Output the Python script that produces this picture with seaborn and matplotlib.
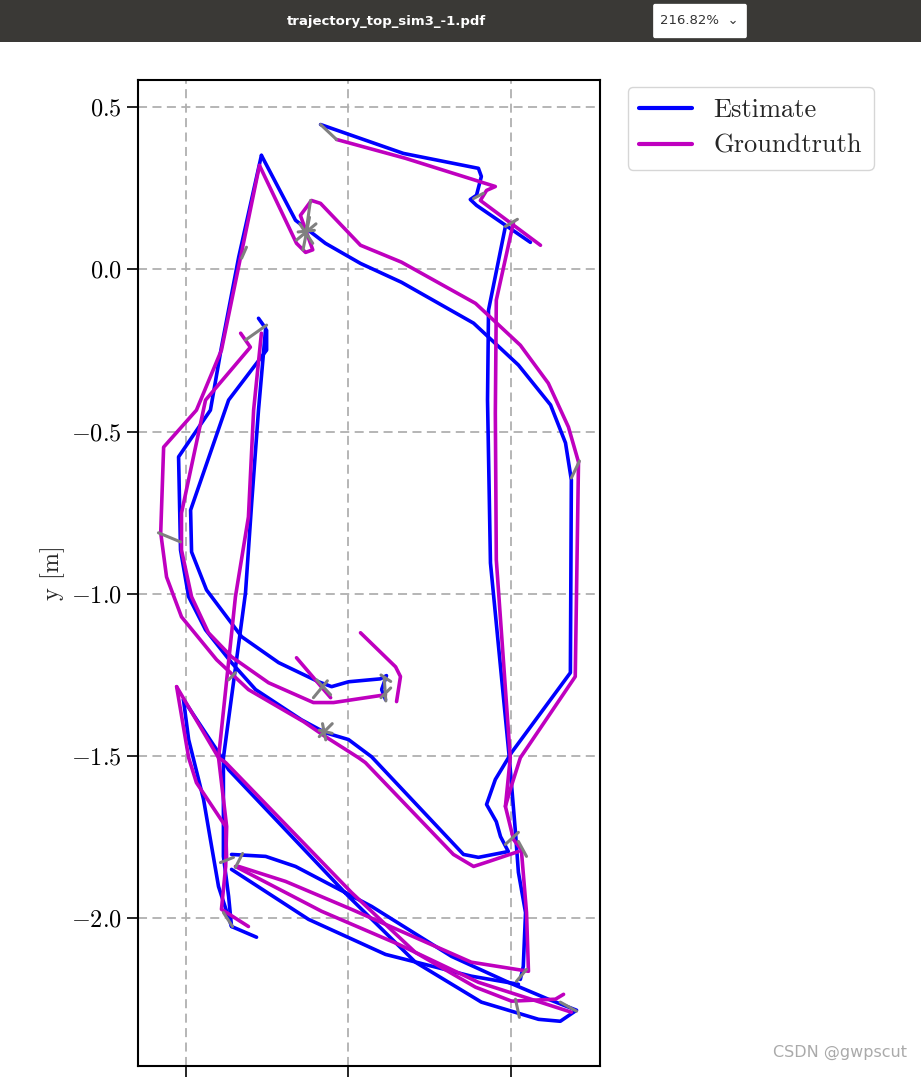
import matplotlib
matplotlib.use("Agg")
import matplotlib.pyplot as plt
import numpy as np
import pandas as pd
import seaborn as sns
from matplotlib.patches import Rectangle, FancyBboxPatch

# estimate trajectory pieces (x [m], y [m])
est_x = [
    [-0.086, 0.169, 0.40, 0.409, 0.394, 0.375, 0.394, 0.56],
    [0.483, 0.431, 0.428, 0.437, 0.495, 0.514, 0.523, 0.545, 0.538, 0.529],
    [-0.268, -0.163, -0.071, 0.037, 0.163, 0.385, 0.523, 0.622, 0.668, 0.686, 0.683, 0.502,
     0.452, 0.425, 0.455, 0.468, 0.492, 0.40, 0.354, 0.071, 0.0, -0.071],
    [-0.268, -0.338, -0.391, -0.425, -0.523, -0.517, -0.492, -0.44, -0.36, -0.286, -0.145, -0.071],
    [-0.252, -0.252, -0.369, -0.486, -0.483, -0.437, -0.329, -0.215, -0.092, -0.052, 0.0,
     0.098, 0.117, 0.102, 0.114],
    [-0.277, -0.255, -0.277, -0.298, -0.317, -0.385, -0.385, -0.369, -0.36, -0.283],
    [-0.508, -0.492, -0.446, -0.425, -0.40, -0.36],
    [-0.508, -0.40, -0.369, 0.0, 0.206, 0.409, 0.585, 0.652, 0.702, 0.615, 0.492, 0.317,
     0.071, -0.163, -0.255, -0.36],
    [-0.36, -0.123, 0.114, 0.378, 0.523],
]
est_y = [
    [0.446, 0.357, 0.311, 0.286, 0.228, 0.215, 0.197, 0.083],
    [0.132, -0.126, -0.403, -0.905, -1.505, -1.735, -1.858, -1.982, -2.148, -2.188],
    [0.351, 0.151, 0.08, 0.018, -0.04, -0.166, -0.295, -0.418, -0.535, -0.649, -1.243, -1.489,
     -1.572, -1.649, -1.702, -1.748, -1.794, -1.812, -1.803, -1.502, -1.449, -1.428],
    [0.351, 0.037, -0.24, -0.434, -0.578, -0.865, -1.009, -1.111, -1.212, -1.295, -1.388, -1.428],
    [-0.188, -0.249, -0.403, -0.742, -0.871, -0.988, -1.132, -1.212, -1.271, -1.286, -1.271,
     -1.262, -1.252, -1.295, -1.326],
    [-0.151, -0.182, -0.434, -0.72, -0.997, -1.505, -1.809, -1.932, -2.025, -2.058],
    [-1.326, -1.449, -1.634, -1.757, -1.902, -2.025],
    [-1.326, -1.489, -1.542, -1.932, -2.135, -2.258, -2.311, -2.317, -2.283, -2.249, -2.197,
     -2.117, -1.963, -1.84, -1.809, -1.803],
    [-1.849, -2.003, -2.111, -2.178, -2.203],
]

# groundtruth trajectory pieces
gt_x = [
    [-0.037, 0.175, 0.452, 0.425, 0.406, 0.591],
    [0.508, 0.455, 0.452, 0.455, 0.498, 0.483, 0.508, 0.532, 0.548, 0.554, 0.378, 0.009,
     -0.194, -0.338],
    [-0.274, -0.16, -0.132, -0.11, -0.148, -0.114, -0.086, 0.037, 0.163, 0.391, 0.529, 0.615,
     0.677, 0.708, 0.698, 0.529, 0.498, 0.483],
    [-0.274, -0.391, -0.468, -0.569, -0.578, -0.56, -0.514, -0.406, -0.308, -0.138, -0.071],
    [-0.332, -0.302, -0.44, -0.514, -0.514, -0.483, -0.431, -0.36, -0.246, -0.108, -0.046, 0.114],
    [-0.268, -0.292, -0.308, -0.348, -0.40, -0.375, -0.378, -0.391, -0.308],
    [-0.529, -0.492, -0.468, -0.378, -0.375],
    [-0.529, -0.40, -0.378, 0.009, 0.206, 0.391, 0.502, 0.637, 0.662],
    [-0.348, -0.083, 0.154, 0.40, 0.686],
    [-0.071, 0.031, 0.052, 0.323, 0.385, 0.431, 0.523],
    [0.037, 0.145, 0.16, 0.148],
    [-0.16, -0.055],
]
gt_y = [
    [0.40, 0.342, 0.255, 0.243, 0.212, 0.074],
    [0.145, -0.095, -0.443, -0.895, -1.505, -1.655, -1.757, -1.788, -1.982, -2.163, -2.135,
     -1.972, -1.886, -1.84],
    [0.32, 0.08, 0.052, 0.06, 0.166, 0.212, 0.203, 0.074, 0.022, -0.105, -0.234, -0.351,
     -0.486, -0.594, -1.255, -1.505, -1.603, -1.655],
    [0.32, -0.249, -0.434, -0.548, -0.812, -0.948, -1.071, -1.203, -1.295, -1.394, -1.44],
    [-0.197, -0.24, -0.403, -0.751, -0.865, -1.009, -1.12, -1.194, -1.274, -1.335, -1.335, -1.311],
    [-0.197, -0.434, -0.763, -1.009, -1.505, -1.717, -1.84, -1.972, -2.025],
    [-1.286, -1.505, -1.582, -1.717, -1.818],
    [-1.286, -1.505, -1.52, -1.92, -2.105, -2.212, -2.255, -2.249, -2.234],
    [-1.84, -1.978, -2.08, -2.197, -2.289],
    [-1.44, -1.505, -1.52, -1.803, -1.84, -1.825, -1.794],
    [-1.12, -1.225, -1.255, -1.332],
    [-1.197, -1.32],
]

# gray association segments between estimate and groundtruth
link_x = [
    [-0.086, -0.037], [-0.314, -0.329], [0.385, 0.415], [0.483, 0.52], [-0.317, -0.252],
    [-0.585, -0.517], [0.686, 0.711], [-0.369, -0.348], [-0.394, -0.354], [-0.348, -0.326],
    [-0.385, -0.357], [0.483, 0.523], [0.523, 0.548], [0.517, 0.548], [0.514, 0.526],
    [0.652, 0.702], [-0.098, -0.055], [-0.108, -0.065],
    [-0.117, -0.132], [-0.16, -0.10], [-0.15, -0.11], [-0.14, -0.12], [-0.155, -0.105],
    [-0.09, -0.05], [-0.08, -0.07], [-0.09, -0.05],
    [0.10, 0.13], [0.11, 0.115], [0.10, 0.13],
]
link_y = [
    [0.446, 0.40], [0.068, 0.034], [0.218, 0.234], [0.132, 0.154], [-0.218, -0.172],
    [-0.812, -0.84], [-0.643, -0.591], [-1.265, -1.243], [-1.828, -1.812], [-1.843, -1.80],
    [-1.982, -2.025], [-1.772, -1.735], [-1.763, -1.809], [-2.194, -2.157], [-2.249, -2.305],
    [-2.258, -2.286], [-1.265, -1.311], [-1.32, -1.268],
    [0.212, 0.105], [0.09, 0.14], [0.14, 0.08], [0.06, 0.16], [0.115, 0.12],
    [-1.42, -1.43], [-1.40, -1.45], [-1.44, -1.40],
    [-1.25, -1.27], [-1.26, -1.33], [-1.32, -1.29],
]


def to_frame(xs, ys, name):
    rows = []
    for i, (sx, sy) in enumerate(zip(xs, ys)):
        for k, (a, b) in enumerate(zip(sx, sy)):
            rows.append({"x": a, "y": b, "seg": f"{name}{i}", "order": k, "series": name})
    return pd.DataFrame(rows)


df = pd.concat([to_frame(est_x, est_y, "Estimate"), to_frame(gt_x, gt_y, "Groundtruth")])
df_link = to_frame(link_x, link_y, "link")

sns.set_style("ticks")
plt.rcParams["font.family"] = ["cmr10", "DejaVu Serif"]
plt.rcParams["mathtext.fontset"] = "cm"
plt.rcParams["axes.formatter.use_mathtext"] = True

fig = plt.figure(figsize=(9.21, 10.79), dpi=100)
ax = fig.add_axes([0.1498, 0.012, 0.5016, 0.9138])

sns.lineplot(data=df, x="x", y="y", hue="series", units="seg", estimator=None, sort=False,
             palette={"Estimate": "#0000ff", "Groundtruth": "#bf00bf"}, linewidth=2.6, ax=ax)
sns.lineplot(data=df_link, x="x", y="y", units="seg", estimator=None, sort=False,
             color="gray", linewidth=2.2, ax=ax, legend=False)

ax.set_xlim(-0.648, 0.774)
ax.set_ylim(-2.455, 0.583)
ax.set_xticks([-0.5, 0.0, 0.5])
ax.set_yticks([0.5, 0.0, -0.5, -1.0, -1.5, -2.0])
ax.tick_params(labelsize=17.5, length=8, width=1.2, direction="out", colors="black")
ax.tick_params(axis="x", labelbottom=False)
ax.set_xlabel("")
ax.set_ylabel("y [m]", fontsize=17.5)
ax.grid(True, linestyle=(0, (5, 3)), color="#b0b0b0", linewidth=1.3)
for s in ax.spines.values():
    s.set_color("black")
    s.set_linewidth(1.5)

handles, labels = ax.get_legend_handles_labels()
for h in handles:
    h.set_linewidth(3)
ax.legend_.remove()
fig.legend(handles, labels, loc="upper left", bbox_to_anchor=(0.667, 0.932),
           fontsize=19, frameon=True, edgecolor="#cccccc", fancybox=True, handlelength=2.0,
           labelspacing=0.45, borderpad=0.45)

# viewer toolbar
fig.patches.append(Rectangle((0, 1 - 42 / 1079), 1, 42 / 1079, transform=fig.transFigure,
                             facecolor="#3a3936", edgecolor="none", zorder=5))
fig.text(0.42, 1 - 21 / 1079, "trajectory_top_sim3_-1.pdf", color="white", fontsize=9.5,
         weight="bold", family="DejaVu Sans", ha="center", va="center", zorder=6)
fig.patches.append(FancyBboxPatch((655 / 921, 1 - 36 / 1079), 90 / 921, 30 / 1079,
                                  boxstyle="round,pad=0.002", transform=fig.transFigure,
                                  facecolor="white", edgecolor="none", zorder=6))
fig.text(660 / 921, 1 - 21 / 1079, "216.82%  ⌄", color="#333333", fontsize=9.5,
         family="DejaVu Sans", ha="left", va="center", zorder=7)
fig.text(0.985, 0.018, "CSDN @gwpscut", color="#aaaaaa", fontsize=11.5,
         family="DejaVu Sans", ha="right", va="bottom")

fig.savefig("out.png", dpi=100)
